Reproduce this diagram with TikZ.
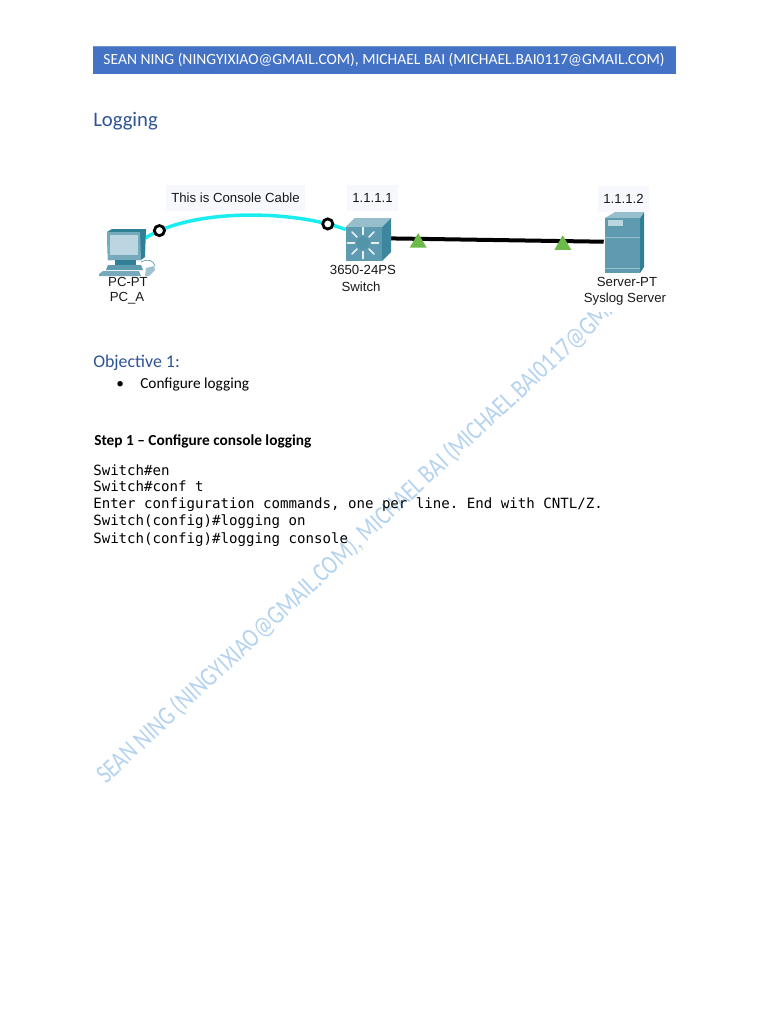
\documentclass[tikz,border=0pt]{standalone}
\usepackage{fontspec}
\setmainfont{Carlito}
\newfontfamily\labelfont{Liberation Sans}
\newfontfamily\codefont{DejaVu Sans Mono}
\usetikzlibrary{shapes.geometric}
\definecolor{barblue}{HTML}{4472C4}
\definecolor{headblue}{HTML}{2F5496}
\definecolor{markblue}{HTML}{B4D3F0}
\definecolor{labelbg}{HTML}{F7F8FD}
\definecolor{cablecyan}{HTML}{19EDEF}
\definecolor{linkgreen}{HTML}{6CBB4A}
\definecolor{iconmid}{HTML}{5E9AB0}
\definecolor{icondark}{HTML}{2F7F96}
\definecolor{iconlight}{HTML}{BBD6E0}
\tikzset{
	pagetext/.style={anchor=base west, inner sep=0pt, font=\fontsize{11.5}{14}\selectfont},
	codeline/.style={anchor=base west, inner sep=0pt, font=\codefont\frenchspacing\fontsize{10.58}{12}\selectfont},
	devlabel/.style={inner sep=0pt, font=\labelfont\fontsize{9.9}{11}\selectfont, text=black!90},
	labelbox/.style={fill=labelbg, inner sep=0pt, font=\labelfont\fontsize{9.9}{11}\selectfont, text=black!90},
	device/.style={inner sep=0pt, minimum width=27pt, minimum height=27pt},
	cable/.style={draw=cablecyan, line width=2.6pt},
	trunk/.style={draw=black, line width=3pt},
	portring/.style={circle, draw=black, fill=white, line width=2.1pt, inner sep=0pt, minimum size=7.6pt},
	linkup/.style={regular polygon, regular polygon sides=3, fill=linkgreen, inner sep=0pt, minimum size=14.7pt, yshift=-3pt}
}
\begin{document}
\begin{tikzpicture}[x=0.75pt, y=-0.75pt]
	\useasboundingbox (0, 0) rectangle (768, 1024);
	\fill[white] (0, 0) rectangle (768, 1024);

	% watermark, the picture covers its far end
	\node[anchor=base west, inner sep=0pt, rotate=42.9, xscale=0.8, text=markblue, font=\fontsize{20}{24}\selectfont] (mark) at (106, 785) {SEAN NING (NINGYIXIAO@GMAIL.COM), MICHAEL BAI (MICHAEL.BAI0117@GMAIL.COM)};
	\fill[white] (93, 175) rectangle (768, 312);

	% page head
	\fill[barblue] (93, 46) rectangle (676, 74);
	\draw[barblue!75!white, line width=0.6pt] (93, 46) -- (676, 46);
	\node[text=white, inner sep=0pt, font=\fontsize{11.64}{14}\selectfont] (head) at (384, 60) {SEAN NING (NINGYIXIAO@GMAIL.COM), MICHAEL BAI (MICHAEL.BAI0117@GMAIL.COM)};
	\node[pagetext, text=headblue, font=\fontsize{15.5}{18}\selectfont] (title) at (93, 126) {Logging};

	% network
	\node[device, minimum height=30pt] (pcA) at (127, 250) {};
	\node[device] (swA) at (364, 238) {};
	\node[device] (srvA) at (622, 242) {};

	\draw[cable] (pcA) .. controls (190, 209) and (290, 209) .. (swA.155)
		node[portring, pos=0.095] (portA) {}
		node[portring, pos=0.9] (portB) {};
	\draw[trunk] (swA) -- (srvA)
		node[linkup, pos=0.162] (upA) {}
		node[linkup, pos=0.815] (upB) {};

	% PC
	\fill[icondark] (107, 232) -- (112, 229) -- (146, 229) -- (145, 257) -- (141, 260) -- (108, 260) -- cycle;
	\fill[iconmid!85!white] (107, 232) -- (140, 232) -- (141, 260) -- (108, 260) -- cycle;
	\fill[iconlight] (110, 235) rectangle (138, 255);
	\fill[icondark] (115, 260) rectangle (136, 265);
	\fill[iconmid] (108, 265) -- (141, 265) -- (143, 270) -- (106, 270) -- cycle;
	\fill[iconmid!85!white] (103, 271) -- (139, 271) -- (141, 276) -- (99, 276) -- (99, 274) -- cycle;
	\fill[iconmid!60!white] (146, 268) -- (154, 266) -- (155, 270) -- (149, 276) -- (145, 276) -- cycle;
	\draw[iconmid, line width=0.5pt] (141, 262) .. controls (150, 258) and (153, 261) .. (155, 266);

	% switch
	\fill[icondark!70!iconmid] (346, 227) -- (355, 218) -- (391, 218) -- (391, 252) -- (382, 261) -- cycle;
	\fill[iconlight!60!iconmid] (346, 227) -- (355, 218) -- (391, 218) -- (382, 227) -- cycle;
	\fill[iconmid] (346, 227) rectangle (382, 261);
	\fill[icondark!75!iconlight] (363, 243) circle (6.5);
	\foreach \ang in {0, 45, ..., 315} {
		\draw[white!85!iconmid, line width=1.3pt, line cap=round] (363, 243) ++(\ang:8.5) -- ++(\ang:7);
	}

	% server
	\fill[icondark] (640, 218) -- (644, 212) -- (644, 267) -- (640, 273) -- cycle;
	\fill[iconlight!60!iconmid] (605, 218) -- (615, 212) -- (644, 212) -- (640, 218) -- cycle;
	\fill[iconmid] (605, 218) rectangle (640, 273);
	\fill[iconlight] (608, 220) rectangle (623, 226);
	\draw[iconlight!60!iconmid, line width=0.5pt] (605, 237) -- (640, 237);
	\draw[iconlight!60!iconmid, line width=0.5pt] (605, 268) -- (640, 268);

	% labels of the network
	\node[labelbox, minimum width=104pt, minimum height=19.5pt] (cableLabel) at (235.5, 198) {This is Console Cable};
	\node[labelbox, minimum width=38pt, minimum height=19.5pt] (swAddr) at (372.5, 198) {1.1.1.1};
	\node[labelbox, minimum width=38pt, minimum height=19.5pt] (srvAddr) at (623.5, 199) {1.1.1.2};
	\node[devlabel] (pcType) at (128, 282) {PC-PT};
	\node[devlabel] (pcName) at (127, 298) {PC\_A};
	\node[devlabel] (swType) at (363, 270) {3650-24PS};
	\node[devlabel] (swName) at (361, 287) {Switch};
	\node[devlabel] (srvType) at (627, 282) {Server-PT};
	\node[devlabel] (srvName) at (625, 299) {Syslog Server};

	% page text
	\node[pagetext, text=headblue, font=\fontsize{13.4}{16}\selectfont] (objective) at (93, 367) {Objective 1:};
	\node[pagetext] (bullet) at (116, 388) {•};
	\node[pagetext] (item) at (140, 388) {Configure logging};
	\node[pagetext, font=\bfseries\fontsize{11.5}{14}\selectfont] (stepOne) at (94, 445) {Step 1 – Configure console logging};
	\node[codeline] (codeA) at (93, 475) {Switch\#en};
	\node[codeline] (codeB) at (93, 491) {Switch\#conf t};
	\node[codeline] (codeC) at (93, 508) {Enter configuration commands, one per line. End with CNTL/Z.};
	\node[codeline] (codeD) at (93, 525) {Switch(config)\#logging on};
	\node[codeline] (codeE) at (93, 543) {Switch(config)\#logging console};
\end{tikzpicture}
\end{document}
